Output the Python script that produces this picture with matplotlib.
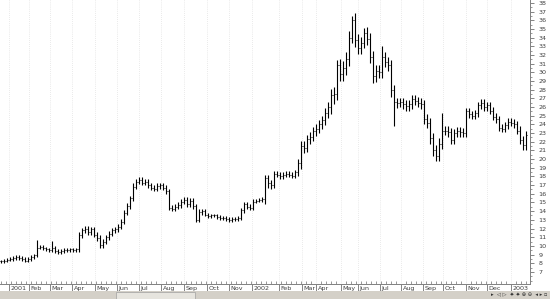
import numpy as np
import matplotlib
matplotlib.use("Agg")
import matplotlib.pyplot as plt
from matplotlib.patches import Rectangle
from matplotlib.ticker import MultipleLocator, FixedLocator, NullFormatter

# trading-day index of each bar (one bar per 3 sessions)
day = np.arange(0, 526, 3)

# closing prices
close = [
    8.2, 8.3, 8.4, 8.5, 8.6, 8.7, 8.6, 8.5, 8.3, 8.5,
    8.7, 8.9, 9.8, 9.9, 9.7, 9.6, 9.5, 9.8, 9.4, 9.3,
    9.4, 9.5, 9.5, 9.6, 9.5, 9.6, 11.2, 11.8, 12.0, 11.6,
    11.9, 11.3, 10.9, 10.1, 10.5, 11.0, 11.4, 11.8, 11.9, 12.2,
    12.8, 13.8, 14.6, 15.5, 16.8, 17.4, 17.6, 17.3, 17.4, 17.0,
    16.7, 16.6, 16.9, 17.0, 16.7, 16.3, 14.4, 14.3, 14.5, 14.7,
    15.1, 15.3, 14.8, 15.2, 14.6, 13.0, 13.9, 14.0, 13.6, 13.4,
    13.5, 13.5, 13.3, 13.2, 13.2, 13.1, 13.0, 13.1, 13.1, 13.2,
    14.1, 14.8, 14.5, 14.4, 15.1, 15.2, 15.3, 15.4, 17.8, 17.2,
    17.0, 18.3, 18.2, 18.0, 18.2, 18.3, 18.2, 18.1, 18.5, 19.5,
    21.5, 21.3, 22.3, 22.6, 23.2, 23.5, 24.0, 24.5, 25.3, 26.0,
    27.4, 27.5, 30.8, 29.8, 30.5, 31.5, 34.0, 36.0, 33.7, 32.8,
    33.4, 34.6, 33.8, 31.8, 29.6, 30.2, 30.0, 31.8, 31.2, 30.8,
    28.0, 26.6, 26.5, 26.6, 26.3, 26.1, 26.3, 26.9, 26.7, 26.5,
    26.3, 24.6, 24.2, 22.4, 21.0, 20.4, 21.8, 23.3, 23.3, 23.1,
    22.2, 23.0, 23.2, 23.1, 23.0, 25.5, 25.2, 25.0, 25.3, 26.2,
    26.5, 26.0, 26.2, 25.6, 24.9, 24.6, 23.6, 23.5, 23.9, 24.3,
    24.2, 24.0, 23.3, 22.2, 21.6, 22.8,
]

# how far each bar reaches above / below its open-close body
up = [
    0.2, 0.2, 0.2, 0.2, 0.2, 0.2, 0.2, 0.2, 0.2, 0.2,
    0.2, 0.2, 0.9, 0.2, 0.2, 0.2, 0.2, 0.8, 0.2, 0.2,
    0.2, 0.2, 0.2, 0.2, 0.2, 0.2, 0.4, 0.3, 0.3, 0.3,
    0.3, 0.3, 0.3, 0.3, 0.3, 0.3, 0.3, 0.3, 0.3, 0.3,
    0.3, 0.3, 0.3, 0.3, 0.4, 0.3, 0.3, 0.3, 0.3, 0.3,
    0.3, 0.3, 0.3, 0.3, 0.3, 0.3, 0.3, 0.3, 0.3, 0.3,
    0.3, 0.3, 0.3, 0.3, 0.3, 0.2, 0.3, 0.3, 0.2, 0.2,
    0.2, 0.2, 0.2, 0.2, 0.2, 0.2, 0.2, 0.2, 0.2, 0.2,
    0.3, 0.3, 0.3, 0.3, 0.3, 0.2, 0.2, 0.2, 0.4, 0.4,
    0.4, 0.3, 0.3, 0.3, 0.3, 0.3, 0.3, 0.3, 0.3, 0.5,
    0.6, 0.6, 0.5, 0.5, 0.5, 0.5, 0.5, 0.5, 0.6, 0.6,
    0.7, 0.8, 0.6, 0.8, 0.8, 0.8, 0.8, 0.5, 0.8, 0.7,
    0.7, 0.5, 0.6, 0.7, 0.7, 0.7, 0.7, 1.2, 0.6, 0.6,
    0.6, 0.6, 0.5, 0.5, 0.5, 0.5, 0.5, 0.5, 0.5, 0.5,
    0.5, 0.5, 0.6, 0.6, 0.6, 0.6, 0.6, 2.0, 0.5, 0.5,
    0.5, 0.5, 0.5, 0.5, 0.5, 0.4, 0.4, 0.4, 0.4, 0.4,
    0.4, 0.4, 0.4, 0.4, 0.4, 0.4, 0.4, 0.4, 0.4, 0.4,
    0.4, 0.4, 0.4, 0.5, 0.5, 0.5,
]
down = [
    0.2, 0.2, 0.2, 0.2, 0.2, 0.2, 0.2, 0.2, 0.2, 0.2,
    0.2, 0.2, 0.2, 0.2, 0.2, 0.2, 0.2, 0.2, 0.2, 0.2,
    0.2, 0.2, 0.2, 0.2, 0.2, 0.2, 0.3, 0.3, 0.3, 0.3,
    0.3, 0.3, 0.3, 0.3, 0.3, 0.3, 0.3, 0.3, 0.3, 0.3,
    0.3, 0.3, 0.3, 0.3, 0.3, 0.3, 0.3, 0.3, 0.3, 0.3,
    0.3, 0.3, 0.3, 0.3, 0.3, 0.3, 0.3, 0.3, 0.3, 0.3,
    0.3, 0.3, 0.3, 0.3, 0.3, 0.3, 0.3, 0.3, 0.2, 0.2,
    0.2, 0.2, 0.2, 0.2, 0.2, 0.2, 0.2, 0.2, 0.2, 0.2,
    0.2, 0.3, 0.3, 0.3, 0.3, 0.2, 0.2, 0.2, 0.6, 0.5,
    0.5, 0.3, 0.3, 0.3, 0.3, 0.3, 0.3, 0.3, 0.3, 0.4,
    0.6, 0.6, 0.5, 0.5, 0.5, 0.5, 0.5, 0.5, 0.6, 0.6,
    0.8, 1.0, 0.7, 0.8, 0.8, 0.8, 0.8, 0.6, 0.8, 0.7,
    0.7, 0.6, 0.6, 0.7, 0.8, 0.7, 0.7, 0.6, 0.6, 0.6,
    0.8, 2.8, 0.6, 0.5, 0.5, 0.5, 0.5, 0.5, 0.5, 0.5,
    0.5, 0.5, 0.6, 0.6, 0.6, 0.6, 0.6, 0.6, 0.5, 0.5,
    0.5, 0.5, 0.5, 0.5, 0.5, 0.4, 0.4, 0.4, 0.4, 0.4,
    0.4, 0.4, 0.4, 0.4, 0.4, 0.4, 0.4, 0.4, 0.4, 0.4,
    0.4, 0.4, 0.4, 0.5, 0.6, 0.5,
]

# first trading day of each month and its label
month_start = [8, 28, 49, 71, 94, 116, 138, 160, 183, 206, 228, 251,
               278, 301, 315, 340, 357, 379, 400, 422, 442, 465, 486, 510]
month_label = ['2001', 'Feb', 'Mar', 'Apr', 'May', 'Jun', 'Jul', 'Aug', 'Sep',
               'Oct', 'Nov', '2002', 'Feb', 'Mar', 'Apr', 'May', 'Jun', 'Jul',
               'Aug', 'Sep', 'Oct', 'Nov', 'Dec', '2003']

close = np.array(close)
opn = np.concatenate([[close[0]], close[:-1]])
high = np.maximum(opn, close) + np.array(up)
low = np.minimum(opn, close) - np.array(down)

fig = plt.figure(figsize=(5.5, 2.99), dpi=100)
ax = fig.add_axes([0, 15 / 299, 530 / 550, 284 / 299])

ax.vlines(day, low, high, color='black', linewidth=0.8)
ax.hlines(opn, day - 1.0, day, color='black', linewidth=0.7)
ax.hlines(close, day, day + 1.0, color='black', linewidth=0.7)

ax.set_xlim(-1, 529)
ax.set_ylim(5.6, 38.35)

# month grid
for m in month_start:
    ax.axvline(m, color='#d6d6d6', linewidth=0.5, linestyle=(0, (1, 2)), zorder=0)

ax.xaxis.set_major_locator(FixedLocator(month_start))
ax.xaxis.set_minor_locator(MultipleLocator(5))
ax.xaxis.set_major_formatter(NullFormatter())
ax.tick_params(axis='x', which='major', direction='out', length=5, width=0.6, color='#707070')
ax.tick_params(axis='x', which='minor', direction='in', length=2, width=0.5, color='#707070')
for m, lab in zip(month_start, month_label):
    ax.text(m + 1.5, -0.006, lab, transform=ax.get_xaxis_transform(),
            ha='left', va='top', fontsize=4.6, color='#404040')

ax.yaxis.tick_right()
ax.yaxis.set_minor_locator(MultipleLocator(0.5))
ax.set_yticks(np.arange(7, 39, 1))
ax.tick_params(axis='y', which='major', direction='out', length=3, width=0.6,
               color='#707070', labelsize=4.6, labelcolor='#404040', pad=3)
ax.tick_params(axis='y', which='minor', direction='out', length=1.5, width=0.5, color='#707070')

for s in ['top', 'left']:
    ax.spines[s].set_visible(False)
for s in ['bottom', 'right']:
    ax.spines[s].set_color('#808080')
    ax.spines[s].set_linewidth(0.7)

# scroll bar strip along the bottom
fig.patches.append(Rectangle((0, 0), 1, 8 / 299, transform=fig.transFigure,
                             facecolor='#d4d0c8', edgecolor='none'))
fig.patches.append(Rectangle((116 / 550, 0.5 / 299), 79 / 550, 7 / 299, transform=fig.transFigure,
                             facecolor='#e6e4de', edgecolor='#a0a0a0', linewidth=0.5))
fig.text(0.995, 4 / 299, '\u25b8  \u25c1 \u25b7  \u2726 \u2726 \u2295 \u2296  \u25c2 \u25b8 \u25ab',
         ha='right', va='center', fontsize=3.8, color='#303030')

fig.savefig('out.png', dpi=100)
